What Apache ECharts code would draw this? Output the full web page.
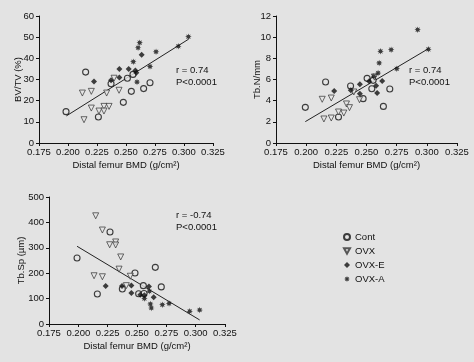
<!DOCTYPE html>
<html>
<head>
<meta charset="utf-8">
<script src="https://cdn.jsdelivr.net/npm/echarts@6/dist/echarts.min.js"></script>
<style>
html,body{margin:0;padding:0;background:#e3e3e3;}
#c{width:474px;height:362px;}
</style>
</head>
<body>
<div id="c"></div>
<script>
// ---- data ----
const seriesNames = ['Cont', 'OVX', 'OVX-E', 'OVX-A'];
const xTickLabels = ['0.175', '0.200', '0.225', '0.250', '0.275', '0.300', '0.325'];
const xName = 'Distal femur BMD (g/cm²)';

const bvtvCont = [[0.1983,14.8],[0.2152,33.5],[0.2262,12.3],[0.2371,28.0],[0.2477,19.2],[0.2512,30.6],[0.2546,24.4],[0.2560,32.4],[0.2652,25.7],[0.2707,28.5]];
const bvtvOVX = [[0.2124,23.6],[0.2201,24.4],[0.2201,16.5],[0.2138,11.0],[0.2267,15.1],[0.2310,17.3],[0.2354,17.3],[0.2310,15.1],[0.2333,23.6],[0.2397,30.6],[0.2440,24.9]];
const bvtvOVXE = [[0.2224,29.1],[0.2371,29.6],[0.2443,35.0],[0.2443,30.9],[0.2523,35.0],[0.2581,34.3],[0.2589,33.2],[0.2635,41.7]];
const bvtvOVXA = [[0.2618,47.4],[0.2604,45.0],[0.2759,43.1],[0.2563,38.4],[0.2707,36.1],[0.2595,28.8],[0.2951,45.7],[0.3038,50.2]];
const bvtvFit = [[0.1986,12.8],[0.3038,49.0]];
const bvtvTicks = [0, 10, 20, 30, 40, 50, 60];

const tbnCont = [[0.1993,3.37],[0.2161,5.76],[0.2268,2.46],[0.2368,5.39],[0.2472,4.19],[0.2505,6.11],[0.2544,5.13],[0.2555,5.92],[0.2640,3.46],[0.2693,5.10]];
const tbnOVX = [[0.2133,4.13],[0.2208,4.25],[0.2147,2.27],[0.2208,2.36],[0.2268,2.93],[0.2312,2.83],[0.2334,3.69],[0.2359,3.34],[0.2395,4.82],[0.2442,4.09],[0.2566,6.24]];
const tbnOVXE = [[0.2232,4.91],[0.2370,4.98],[0.2445,5.54],[0.2445,4.66],[0.2522,5.83],[0.2580,5.42],[0.2588,4.72],[0.2630,5.86]];
const tbnOVXA = [[0.2924,10.71],[0.3013,8.85],[0.2616,8.66],[0.2704,8.82],[0.2605,7.56],[0.2751,7.02],[0.2596,6.61],[0.2561,6.30]];
const tbnFit = [[0.1993,2.02],[0.3013,8.91]];
const tbnTicks = [0, 2, 4, 6, 8, 10, 12];

const tbspCont = [[0.1989,260],[0.2162,118],[0.2270,362],[0.2375,138],[0.2483,201],[0.2514,119],[0.2554,151],[0.2560,120],[0.2656,223],[0.2707,146]];
const tbspOVX = [[0.2148,426],[0.2205,370],[0.2267,312],[0.2318,323],[0.2318,311],[0.2361,264],[0.2347,216],[0.2134,190],[0.2205,186],[0.2409,151],[0.2443,188]];
const tbspOVXE = [[0.2233,150],[0.2372,150],[0.2452,152],[0.2452,122],[0.2528,115],[0.2563,113],[0.2602,148],[0.2642,105]];
const tbspOVXA = [[0.2605,129],[0.2614,79],[0.2622,63],[0.2716,76],[0.2773,81],[0.2949,50],[0.3034,55],[0.2563,100]];
const tbspFit = [[0.1989,306],[0.3034,16]];
const tbspTicks = [0, 100, 200, 300, 400, 500];

const statTexts = [['r = 0.74', 'P<0.0001'], ['r = 0.74', 'P<0.0001'], ['r = -0.74', 'P<0.0001']];
const yNames = ['BV/TV (%)', 'Tb.N/mm', 'Tb.Sp (µm)'];

// ---- layout / style ----
const BG = '#e3e3e3';
const FONT = 'Liberation Sans, Arial, sans-serif';
const grids = [
  {left: 39, top: 16, width: 174, height: 127},
  {left: 276, top: 16, width: 181, height: 127},
  {left: 49, top: 197, width: 176, height: 127}
];
const yNameGaps = [16, 14, 23];
const statPos = [[176, 64], [409, 64], [176, 209]];

const ASTER = 'path://M10,0 L11.91,5.38 L17.07,2.93 L14.62,8.09 L20,10 L14.62,11.91 L17.07,17.07 L11.91,14.62 L10,20 L8.09,14.62 L2.93,17.07 L5.38,11.91 L0,10 L5.38,8.09 L2.93,2.93 L8.09,5.38 Z';
const TRI = 'path://M0,0 L10,0 L5,9 Z';
const symStyle = {
  'Cont':  {symbol: 'circle', symbolSize: 6, itemStyle: {color: BG, borderColor: '#111', borderWidth: 1.1}},
  'OVX':   {symbol: TRI, symbolSize: 6, itemStyle: {color: BG, borderColor: '#333', borderWidth: 0.9}},
  'OVX-E': {symbol: 'diamond', symbolSize: 6, itemStyle: {color: '#111', borderWidth: 0}},
  'OVX-A': {symbol: ASTER, symbolSize: 6.5, itemStyle: {color: '#111', borderWidth: 0}}
};

const panelData = [
  {groups: [bvtvCont, bvtvOVX, bvtvOVXE, bvtvOVXA], fit: bvtvFit, ticks: bvtvTicks},
  {groups: [tbnCont, tbnOVX, tbnOVXE, tbnOVXA], fit: tbnFit, ticks: tbnTicks},
  {groups: [tbspCont, tbspOVX, tbspOVXE, tbspOVXA], fit: tbspFit, ticks: tbspTicks}
];

const labelStyle = {color: '#111', fontSize: 9.5, fontFamily: FONT};
const xAxes = [], yAxes = [], series = [], graphics = [];
panelData.forEach((p, i) => {
  xAxes.push({
    type: 'value', gridIndex: i,
    min: Number(xTickLabels[0]), max: Number(xTickLabels[xTickLabels.length - 1]), interval: 0.025,
    name: xName, nameLocation: 'middle', nameGap: 17, nameMoveOverlap: false,
    nameTextStyle: {color: '#111', fontSize: 9.5, fontFamily: FONT},
    axisLine: {lineStyle: {color: '#111', width: 1}},
    axisTick: {show: true, inside: false, length: 3, lineStyle: {color: '#111'}},
    axisLabel: Object.assign({margin: 4, formatter: v => v.toFixed(3)}, labelStyle),
    splitLine: {show: false}
  });
  const t = p.ticks;
  yAxes.push({
    type: 'value', gridIndex: i,
    min: t[0], max: t[t.length - 1], interval: t[1] - t[0],
    name: yNames[i], nameLocation: 'middle', nameGap: yNameGaps[i], nameMoveOverlap: false,
    nameTextStyle: {color: '#111', fontSize: 9.5, fontFamily: FONT},
    axisLine: {show: true, lineStyle: {color: '#111', width: 1}},
    axisTick: {show: true, inside: false, length: 3, lineStyle: {color: '#111'}},
    axisLabel: Object.assign({margin: 5}, labelStyle),
    splitLine: {show: false}
  });
  series.push({
    type: 'line', name: 'fit' + i, xAxisIndex: i, yAxisIndex: i,
    data: p.fit, symbol: 'none', silent: true,
    lineStyle: {color: '#222', width: 1}, z: 1
  });
  p.groups.forEach((g, k) => {
    const nm = seriesNames[k];
    series.push(Object.assign({
      type: 'scatter', name: nm, xAxisIndex: i, yAxisIndex: i, data: g, z: 3 + k
    }, symStyle[nm]));
  });
  graphics.push({
    type: 'text', left: statPos[i][0], top: statPos[i][1],
    style: {text: statTexts[i].join('\n'), fill: '#111', font: '9.5px ' + FONT, lineHeight: 12.5}
  });
});

const chart = echarts.init(document.getElementById('c'), null, {renderer: 'canvas'});
chart.setOption({
  backgroundColor: BG,
  animation: false,
  grid: grids,
  xAxis: xAxes,
  yAxis: yAxes,
  series: series,
  legend: {
    data: seriesNames, orient: 'vertical', left: 343, top: 232,
    itemWidth: 6, itemHeight: 6, itemGap: 4, padding: 0,
    textStyle: {color: '#111', fontSize: 9.5, fontFamily: FONT}
  },
  graphic: graphics
});
</script>
</body>
</html>
